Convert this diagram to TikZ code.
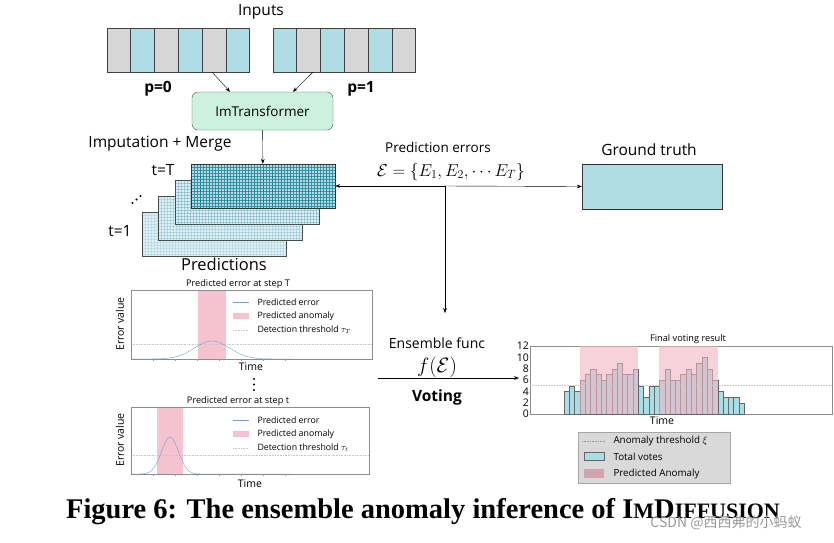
\documentclass[tikz,border=0pt]{standalone}
\usepackage{fontspec}
\usepackage{amsmath}
\setmainfont{Liberation Serif}
\newfontfamily\sansf{Open Sans}
\newfontfamily\cjk{Noto Sans CJK SC}
\usetikzlibrary{positioning, arrows.meta, fit, backgrounds}
\definecolor{cellgray}{RGB}{215,215,215}
\definecolor{cellblue}{RGB}{176,220,230}
\definecolor{mint}{RGB}{204,242,222}
\definecolor{gridteal}{RGB}{40,130,150}
\definecolor{anom}{RGB}{242,180,195}
\definecolor{votes}{RGB}{168,222,228}
\definecolor{curve}{RGB}{110,160,215}

\begin{document}
\begin{tikzpicture}[x=1pt, y=-1pt,
    every node/.style={font=\sansf\fontsize{15.5}{17}\selectfont},
    cell/.style={draw=black!75, line width=0.8pt},
    box/.style={draw=black!70, rounded corners=6pt, fill=mint, minimum width=141pt,
                minimum height=38pt, inner sep=0pt, font=\sansf\fontsize{13.5}{15}\selectfont},
    arrow/.style={-Stealth, thin},
    bold/.style={font=\sansf\bfseries\fontsize{15.5}{17}\selectfont},
    small/.style={font=\sansf\fontsize{9.2}{10}\selectfont},
    axlab/.style={font=\sansf\fontsize{10.5}{12}\selectfont},
    tiny/.style={font=\sansf\fontsize{8.8}{10}\selectfont},
    leg/.style={font=\sansf\fontsize{9.8}{11}\selectfont},
    frame/.style={draw=black!45, line width=0.5pt},
    thresh/.style={black!22, densely dotted, line width=0.6pt}
]
\useasboundingbox (0,0) rectangle (834,542);

% Inputs
\node (inputs) at (261,12) {Inputs};
\foreach \i in {0,...,5} {
  \pgfmathsetmacro\xa{107+\i*23.8}
  \ifodd\i \def\cc{cellblue}\else\def\cc{cellgray}\fi
  \fill[\cc] (\xa,28) rectangle ++(23.8,44);
  \pgfmathsetmacro\xb{273+\i*23.8}
  \ifodd\i \def\cc{cellgray}\else\def\cc{cellblue}\fi
  \fill[\cc] (\xb,28) rectangle ++(23.8,44);
  \draw[cell] (\xa,28) rectangle ++(23.8,44);
  \draw[cell] (\xb,28) rectangle ++(23.8,44);
}
\coordinate (in0) at (212,72);
\coordinate (in1) at (313,72);
\node[bold] (p0) at (158,89) {p=0};
\node[bold] (p1) at (361,89) {p=1};

\node[box] (imt) at (262.5,111) {ImTransformer};
\draw[arrow] (in0) -- (imt.north west -| 230,0);
\draw[arrow] (in1) -- (imt.north east -| 293,0);

% Predictions stack
\node (merge) at (160,144) {Imputation + Merge};
\foreach \k/\op in {3/0.12,2/0.2,1/0.3} {
  \pgfmathsetmacro\ox{191-\k*16.3}
  \pgfmathsetmacro\oy{164+\k*16}
  \fill[cellblue!45, draw=black!70] (\ox,\oy) rectangle ++(144,44);
  \begin{scope}[gridteal, opacity=\op, line width=0.4pt]
    \foreach \g in {3,6,...,141} \draw (\ox+\g,\oy) -- ++(0,44);
    \foreach \g in {3,6,...,42} \draw (\ox,\oy+\g) -- ++(144,0);
  \end{scope}
  \draw[black!70] (\ox,\oy) rectangle ++(144,44);
}
\node[draw=black!80, fill=cellblue, minimum width=144pt, minimum height=44pt, inner sep=0pt]
  (pred) at (263,186) {};
\begin{scope}[gridteal, line width=0.35pt, opacity=0.8]
  \foreach \g in {3,6,...,141} \draw (191+\g,164) -- ++(0,44);
  \foreach \g in {3,6,...,42} \draw (191,164+\g) -- ++(144,0);
  \foreach \g in {9,18,...,140} \draw[line width=0.9pt] (191+\g,164) -- ++(0,44);
\end{scope}
\draw[black!80] (pred.north west) rectangle (pred.south east);
\node (tT) at (163,170) {t=T};
\node (t1) at (120,231) {t=1};
\fill (132.5,203) circle (1.1pt) (136.5,199.5) circle (1.1pt) (140.5,196) circle (1.1pt);
\node[font=\sansf\fontsize{16.5}{18}\selectfont] (predlab) at (224,264) {Predictions};
\draw[arrow] (imt) -- (pred);

% Errors and ground truth
\node[font=\sansf\fontsize{13.5}{15}\selectfont] (errlab) at (438,147) {Prediction errors};
\node[font=\fontsize{18}{20}\selectfont] (errset) at (451,172) {$\mathcal{E}=\{E_1,E_2,\cdots E_T\}$};
\node[draw=black!80, fill=cellblue, minimum width=140pt, minimum height=45pt, inner sep=0pt]
  (gt) at (652,186.5) {};
\node (gtlab) at (649,150) {Ground truth};
\coordinate (split) at (445,186);
\draw[arrow] (split) -- (pred.east);
\draw[arrow] (split) -- (gt.west);

% Voting
\node[font=\sansf\fontsize{14}{16}\selectfont] (ens) at (437,343) {Ensemble func};
\node[font=\fontsize{20}{22}\selectfont] (fe) at (437,367) {$f(\mathcal{E})$};
\node[bold] (vote) at (437,397) {Voting};
\coordinate (vin) at (378,378);
\coordinate (vout) at (519,378);
\draw[arrow] (split) -- (445,313);

% Step T plot
\node[small] (titleT) at (238,284) {Predicted error at step T};
\fill[anom!80] (198,291) rectangle (226,359);
\draw[thresh] (131,344) -- (372,344);
\draw[curve, line width=0.4pt] plot[domain=131:292, samples=60] (\x,{359-18*exp(-((\x-212)/25)^2)});
\node[frame, minimum width=241pt, minimum height=69pt, inner sep=0pt] (plotT) at (251.5,324.5) {};
\foreach \g in {153,175,...,285} \draw[black!40] (\g,359) -- ++(0,2);
\node[axlab, rotate=90] (ylT) at (120,324) {Error value};
\node[axlab] (xlT) at (251,367) {Time};
\draw[curve] (233,302) -- (249,302); \fill[anom!80] (233,313) rectangle (249,319);
\draw[thresh] (233,330) -- (249,330);
\node[tiny, anchor=west] at (254,302) {Predicted error};
\node[tiny, anchor=west] at (254,316) {Predicted anomaly};
\node[tiny, anchor=west] at (254,330) {Detection threshold $\tau_T$};
\fill (254,379) circle (1.2pt) (254,384.5) circle (1.2pt) (254,390) circle (1.2pt);

% Step t plot
\node[small] (titlet) at (238,401) {Predicted error at step t};
\fill[anom!80] (157,408) rectangle (183,474);
\draw[thresh] (131,455) -- (369,455);
\draw[curve, line width=0.4pt] plot[domain=131:290, samples=70] (\x,{474-37*exp(-((\x-170)/12)^2)});
\node[frame, minimum width=238pt, minimum height=67pt, inner sep=0pt] (plott) at (250,440.5) {};
\foreach \g in {153,175,...,285} \draw[black!40] (\g,474) -- ++(0,2);
\node[axlab, rotate=90] (ylt) at (120,440) {Error value};
\node[axlab] (xlt) at (250,484) {Time};
\draw[curve] (233,420) -- (249,420); \fill[anom!80] (233,431) rectangle (249,437);
\draw[thresh] (233,448) -- (249,448);
\node[tiny, anchor=west] at (254,420) {Predicted error};
\node[tiny, anchor=west] at (254,434) {Predicted anomaly};
\node[tiny, anchor=west] at (254,448) {Detection threshold $\tau_t$};

% Final voting result
\node[small] (titleV) at (688,339) {Final voting result};
\node[frame, minimum width=302pt, minimum height=68pt, inner sep=0pt] (final) at (681,380) {};
\draw[arrow] (vin) -- (vout);
\foreach \v [count=\n from 0] in {4,5,4,6,7,8,7,6,7,8,9,7,7,8,5,3,5,5,6,8,6,6,7,8,7,9,10,8,6,4,3,3,3,2}
  \draw[fill=votes, draw=black!60, line width=0.3pt] (564+\n*5.3,414) rectangle ++(5.3,-\v*5.67);
\fill[anom, opacity=0.6] (580,346) rectangle (638.3,414);
\fill[anom, opacity=0.6] (659.4,346) rectangle (717.7,414);
\draw[thresh] (530,385.6) -- (832,385.6);
\foreach \t in {0,2,...,12} \node[axlab, anchor=east, inner sep=1pt] at (530,414-\t*5.67) {\t};
\node[axlab] (xlV) at (662,421) {Time};
\node[fill=black!15, draw=black!35, minimum width=152pt, minimum height=51pt, inner sep=0pt] (leg) at (654,457.5) {};
\draw[thresh, black!40] (582,441) -- (605,441);
\draw[fill=votes, draw=black!60] (584,452) rectangle (604,460);
\fill[anom!85!black!90] (584,469) rectangle (604,478);
\node[leg, anchor=west] at (610,441) {Anomaly threshold $\xi$};
\node[leg, anchor=west] at (610,457) {Total votes};
\node[leg, anchor=west] at (610,474) {Predicted Anomaly};

% Caption
\node[font=\bfseries\fontsize{28.5}{30}\selectfont] (cap) at (423,512) {Figure 6: The ensemble anomaly inference of I{\fontsize{22}{24}\selectfont M}D{\fontsize{22}{24}\selectfont IFFUSION}};
\node[font=\cjk\fontsize{14}{16}\selectfont, text=black!40] (wm) at (726,523) {CSDN @西西弗的小蚂蚁};
\end{tikzpicture}
\end{document}
